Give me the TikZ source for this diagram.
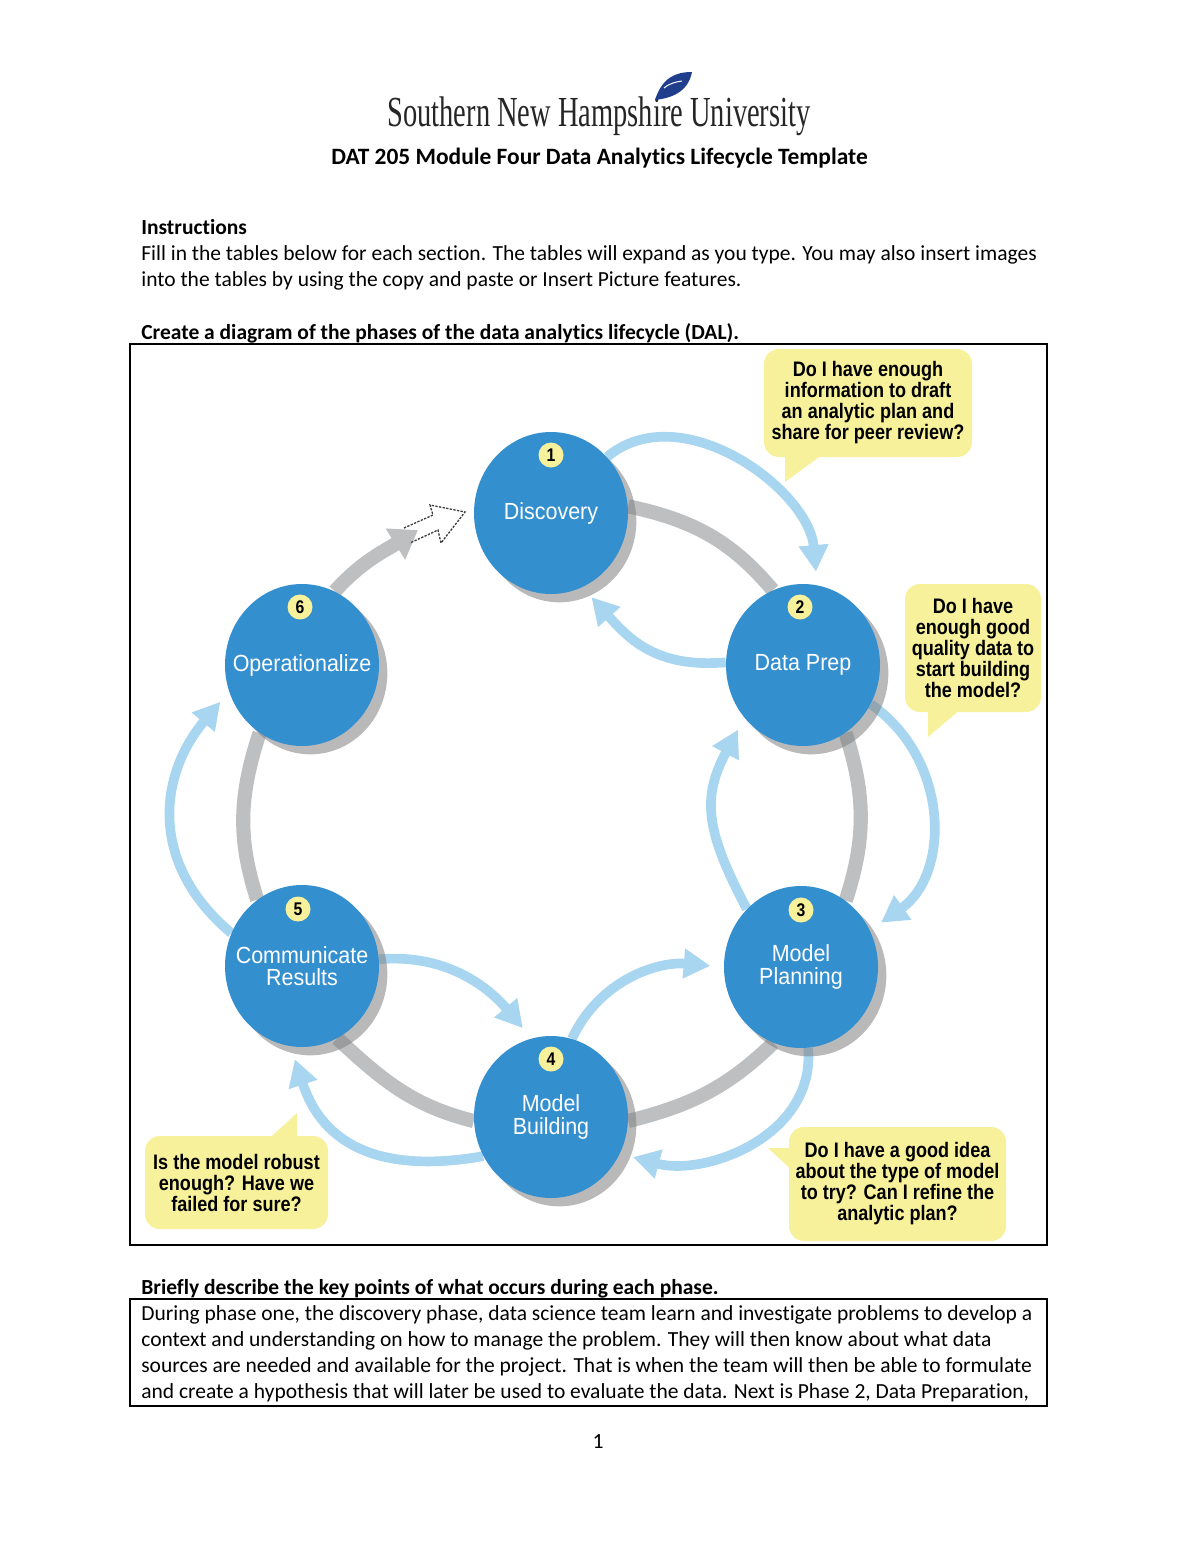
\documentclass[tikz,border=0pt]{standalone}
\usepackage{fontspec}
\setmainfont[Ligatures=NoCommon]{Carlito}
\newfontfamily\logofont[FakeStretch=0.665]{Liberation Serif}
\newfontfamily\labelfont[FakeStretch=0.86]{Liberation Sans}
\newfontfamily\phasefont[FakeStretch=0.92]{Liberation Sans}
\usetikzlibrary{arrows.meta,shapes.geometric,shadows,backgrounds}
\definecolor{phaseblue}{HTML}{348FCF}
\definecolor{loopblue}{HTML}{A8D6F0}
\definecolor{ringgray}{HTML}{BDBFC1}
\definecolor{noteyellow}{HTML}{F8F19C}
\definecolor{leafblue}{HTML}{1F3F8C}
\tikzset{
  phase/.style={ellipse,fill=phaseblue,text=white,minimum width=92.4pt,minimum height=97.2pt,inner sep=-16pt,
    align=center,font=\phasefont\fontsize{14}{13.4}\selectfont,
    drop shadow={shadow xshift=5pt,shadow yshift=-5pt,fill=black!50,opacity=0.55}},
  badge/.style={circle,fill=noteyellow,minimum size=15pt,inner sep=0pt,font=\labelfont\bfseries\fontsize{11}{11}\selectfont},
  note/.style={rectangle,rounded corners=9pt,fill=noteyellow,inner sep=0pt,align=center,
    font=\labelfont\bfseries\fontsize{12.6}{12.6}\selectfont},
  ring/.style={ringgray,line width=8.5pt},
  turn/.style={loopblue,line width=5.8pt,shorten >=8pt,-{Triangle[width=17pt,length=16pt]}},
  body/.style={inner sep=0pt,anchor=north west,align=left,font=\fontsize{12.9}{15.7}\selectfont},
  frame/.style={line width=1.4pt}
}
\begin{document}
\begin{tikzpicture}[x=0.6pt,y=0.6pt]
\useasboundingbox (0,0) rectangle (1200,-1553);
% header
\node (logo) at (599,-116) {\logofont\color{black!85}\fontsize{25.7}{26}\selectfont Southern New Hampshire University};
\fill[leafblue] (655,-100) .. controls (662,-78) and (675,-72) .. (692,-72) .. controls (688,-92) and (672,-98) .. (655,-100) -- cycle;
\draw[white,line width=0.6pt] (664,-88) .. controls (670,-83) and (676,-82) .. (682,-81);
\node[font=\bfseries\fontsize{14.05}{16}\selectfont] (title) at (599.5,-158) {DAT 205 Module Four Data Analytics Lifecycle Template};
\node[body] (instr) at (141,-219) {\textbf{Instructions}\\
Fill in the tables below for each section. The tables will expand as you type. You may also insert images\\
into the tables by using the copy and paste or Insert Picture features.};
\node[body] (diagtitle) at (141,-323) {\textbf{Create a diagram of the phases of the data analytics lifecycle (DAL).}};
% outer boxes
\draw[frame] (130,-344) rectangle (1047,-1245);
\node[body] (keytitle) at (141,-1279) {\textbf{Briefly describe the key points of what occurs during each phase.}};
\draw[frame] (130,-1299) rectangle (1047,-1406);
\node[body] (phasetext) at (141,-1305) {During phase one, the discovery phase, data science team learn and investigate problems to develop a\\
context and understanding on how to manage the problem. They will then know about what data\\
sources are needed and available for the project. That is when the team will then be able to formulate\\
and create a hypothesis that will later be used to evaluate the data. Next is Phase 2, Data Preparation,};
\node[font=\fontsize{13}{15}\selectfont] (pageno) at (598,-1442) {1};
% phases
\node[phase] (disc) at (551,-513) {Discovery};
\node[phase] (prep) at (803,-665) {Data Prep};
\node[phase] (plan) at (801,-967) {Model\\Planning};
\node[phase] (build) at (551,-1117) {Model\\Building};
\node[phase] (comm) at (302,-966) {Communicate\\Results};
\node[phase] (oper) at (302,-665) {Operationalize};
\node[badge] (b1) at (551,-455) {1};
\node[badge] (b2) at (800,-607) {2};
\node[badge] (b3) at (801,-910) {3};
\node[badge] (b4) at (551,-1059) {4};
\node[badge] (b5) at (298,-909) {5};
\node[badge] (b6) at (300,-607) {6};
% questions
\fill[noteyellow] (785,-445) -- (785,-482) -- (826,-452) -- cycle;
\node[note,minimum width=124.8pt,minimum height=64.8pt] (q1) at (868,-403) {Do I have enough\\information to draft\\an analytic plan and\\share for peer review?};
\fill[noteyellow] (928,-700) -- (928,-737) -- (962,-708) -- cycle;
\node[note,minimum width=81.6pt,minimum height=76.8pt] (q2) at (973,-648) {Do I have\\enough good\\quality data to\\start building\\the model?};
\fill[noteyellow] (800,-1148) -- (768,-1148) -- (800,-1178) -- cycle;
\node[note,minimum width=130.2pt,minimum height=68.4pt] (q3) at (897.5,-1184) {Do I have a good idea\\about the type of model\\to try? Can I refine the\\analytic plan?};
\fill[noteyellow] (262,-1145) -- (297,-1113) -- (297,-1145) -- cycle;
\node[note,minimum width=109.8pt,minimum height=55.8pt] (q4) at (236.5,-1182.5) {Is the model robust\\enough? Have we\\failed for sure?};
\coordinate (next) at (418,-530);
\begin{scope}[on background layer]
\draw[ring] (disc.5) to[out=-12,in=130] (prep.112);
\draw[ring] (prep.-58) to[out=-72,in=72] (plan.56);
\draw[ring] (plan.-110) to[out=-136,in=14] (build.-3);
\draw[ring] (build.183) to[out=166,in=-43] (comm.-64);
\draw[ring] (comm.124) to[out=108,in=-108] (oper.-122);
\draw[ring,-{Triangle[width=21pt,length=16pt]}] (oper.66) to[out=48,in=-148] (next);
\draw[turn] (disc.45) to[out=40,in=95] (prep.80);
\draw[turn] (prep.178) to[out=185,in=-48,looseness=1.1] (disc.-67);
\draw[turn] (prep.-30) to[out=-35,in=35,looseness=1.1] (plan.28);
\draw[turn] (plan.133) to[out=118,in=-118,looseness=1.2] (prep.222);
\draw[turn] (plan.-85) to[out=-85,in=-15,looseness=1.05] (build.-28);
\draw[turn] (build.75) to[out=65,in=175] (plan.180);
\draw[turn] (comm.5) to[out=5,in=130] (build.104);
\draw[turn] (build.-150) to[out=190,in=-72,looseness=1.2] (comm.-98);
\draw[turn] (comm.155) to[out=140,in=-130,looseness=1.15] (oper.200);
\end{scope}
\draw[black!75,line width=0.8pt,dash pattern=on 1.4pt off 0.8pt] (404,-528) -- (433,-515) -- (430,-505) -- (465,-512) -- (441,-543) -- (438,-530) -- (410,-543);
\end{tikzpicture}
\end{document}
